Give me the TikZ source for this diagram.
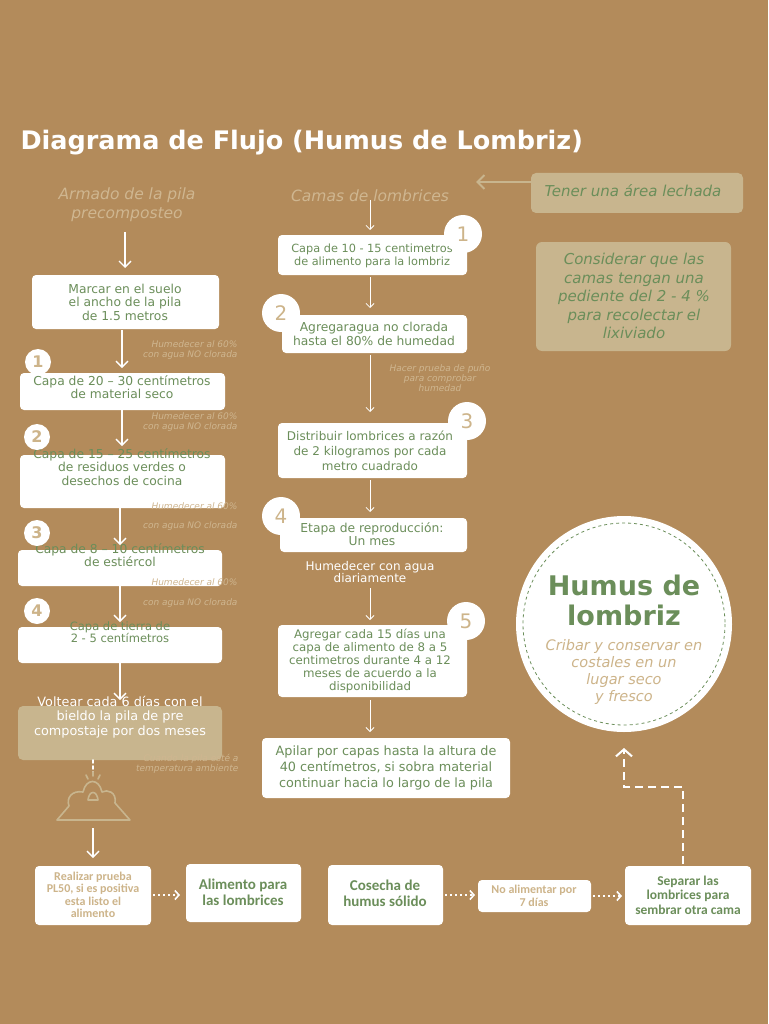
\documentclass[tikz,border=0pt]{standalone}
\usepackage{fontspec}
\setmainfont{DejaVu Sans}
\newfontfamily\cond{Carlito}
\usetikzlibrary{arrows.meta}
\definecolor{bg}{HTML}{B38B5B}
\definecolor{gtext}{HTML}{6B8E5A}
\definecolor{tanbox}{HTML}{C8B58E}
\definecolor{faint}{HTML}{CFB690}
\definecolor{tantext}{HTML}{CDB48A}
\tikzset{
 x=1pt,y=-1pt,
 wbox/.style={fill=white,rounded corners=4pt,inner sep=0pt},
 btxt/.style={text=gtext,font=\fontsize{12.3}{13.5}\selectfont,align=center},
 note/.style={text=faint,font=\fontsize{9}{10}\selectfont\itshape,align=right,anchor=east},
 ar/.style={draw=white,line width=1.3pt,-{Straight Barb[length=6pt,width=12pt]}},
 arm/.style={draw=white,line width=0.8pt,-{Straight Barb[length=4pt,width=8pt]}},
 num/.style={circle,fill=white,minimum size=#1,inner sep=0pt,text=tantext,font=\fontsize{16}{16}\selectfont\bfseries},
 dotar/.style={draw=white,line width=1.6pt,dash pattern=on 2pt off 3pt,-{Straight Barb[length=4pt,width=9pt]}},
 bb/.style={text=gtext,font=\cond\bfseries\fontsize{15}{16}\selectfont,align=center},
}
\begin{document}
\begin{tikzpicture}
\fill[bg] (0,0) rectangle (768,1024);
\useasboundingbox (0,0) rectangle (768,1024);
\node[anchor=west,text=white,font=\bfseries\fontsize{25.5}{25}\selectfont] (title) at (17,143) {Diagrama de Flujo (Humus de Lombriz)};
% left column
\node[text=faint,font=\itshape\fontsize{15.5}{19}\selectfont,align=center] (lh) at (127,205) {Armado de la pila\\precomposteo};
\fill[wbox] (32,275) rectangle (219,329); \node[btxt] (l1) at (125,302) {Marcar en el suelo\\el ancho de la pila\\de 1.5 metros};
\coordinate (a0) at (125,232); \coordinate (a1) at (125,268);
\draw[ar] (a0) -- (a1);
\node[note] (n1) at (241,350) {Humedecer al 60\%\\con agua NO clorada};
\coordinate (b0) at (122,330); \coordinate (b1) at (122,368); \draw[ar] (b0)--(b1);
\fill[wbox] (20,373) rectangle (225,410); \node[btxt] (l2) at (122,387) {Capa de 20 – 30 centímetros\\de material seco};
\node[num=26pt] (c1) at (38,362) {1};
\node[note] (n2) at (241,422) {Humedecer al 60\%\\con agua NO clorada};
\coordinate (b2) at (122,410); \coordinate (b3) at (122,446); \draw[ar] (b2)--(b3);
\fill[wbox] (20,455) rectangle (225,508); \node[btxt] (l3) at (122,467) {Capa de 15 – 25 centímetros\\de residuos verdes o\\desechos de cocina};
\node[num=26pt] (c2) at (37,437) {2};
\node[note] (n3a) at (241,506) {Humedecer al 60\%};
\node[note] (n3b) at (241,526) {con agua NO clorada};
\coordinate (b4) at (120,508); \coordinate (b5) at (120,545); \draw[ar] (b4)--(b5);
\fill[wbox] (18,550) rectangle (222,586); \node[btxt] (l4) at (120,555) {Capa de 8 – 10 centímetros\\de estiércol};
\node[num=26pt] (c3) at (37,533) {3};
\node[note] (n4a) at (241,582) {Humedecer al 60\%};
\node[note] (n4b) at (241,603) {con agua NO clorada};
\coordinate (b6) at (120,586); \coordinate (b7) at (120,622); \draw[ar] (b6)--(b7);
\fill[wbox] (18,627) rectangle (222,663); \node[btxt,font=\fontsize{11.5}{12.5}\selectfont] (l5) at (120,632) {Capa de tierra de\\2 - 5 centímetros};
\node[num=26pt] (c4) at (37,611) {4};
\coordinate (b8) at (120,663); \coordinate (b9) at (120,700); \draw[ar] (b8)--(b9);
\fill[tanbox,rounded corners=5pt] (18,706) rectangle (222,760);
\node[btxt,text=white,font=\fontsize{12.8}{14.5}\selectfont] (l6) at (120,717) {Voltear cada 6 días con el\\bieldo la pila de pre\\compostaje por dos meses};
\node[note] (n6) at (242,764) {Cuando la pila esté a\\temperatura ambiente};
% pile icon
\begin{scope}[draw=tanbox,line width=1.6pt,line cap=round,line join=round]
\draw[dashed,white] (93,760) -- (93,776);
\draw (57,820) -- (130,820) -- (115,803) .. controls (117,792) and (107,789) .. (102,792)
 .. controls (99,778) and (86,778) .. (83,792) .. controls (72,790) and (66,798) .. (69,806) -- (57,820);
\draw (88,800) .. controls (89,790) and (97,790) .. (98,800) -- (88,800);
\draw (86,775)--(88,779) (100,775)--(98,779) (93,772)--(93,776);
\end{scope}
\coordinate (p0) at (93,828); \coordinate (p1) at (93,858); \draw[ar] (p0)--(p1);
% middle column
\node[text=faint,font=\itshape\fontsize{15.5}{18}\selectfont] (mh) at (370,196) {Camas de lombrices};
\coordinate (m0) at (370,200); \coordinate (m1) at (370,230); \draw[arm] (m0)--(m1);
\fill[wbox] (278,235) rectangle (467,275); \node[btxt,font=\fontsize{11.3}{13.5}\selectfont] (r1) at (372,256) {Capa de 10 - 15 centimetros\\de alimento para la lombriz};
\node[num=38pt,font=\fontsize{20}{20}\selectfont] (k1) at (463,234) {1};
\coordinate (m2) at (370,277); \coordinate (m3) at (370,308); \draw[arm] (m2)--(m3);
\fill[wbox] (282,315) rectangle (467,353); \node[btxt] (r2) at (374,334) {Agregaragua no clorada\\hasta el 80\% de humedad};
\node[num=38pt,font=\fontsize{20}{20}\selectfont] (k2) at (281,313) {2};
\node[note,anchor=center,align=center] (n7) at (440,378) {Hacer prueba de puño\\para comprobar\\humedad};
\coordinate (m4) at (370,355); \coordinate (m5) at (370,412); \draw[arm] (m4)--(m5);
\fill[wbox] (278,423) rectangle (467,478); \node[btxt,font=\fontsize{12}{15}\selectfont] (r3) at (370,451) {Distribuir lombrices a razón\\de 2 kilogramos por cada\\metro cuadrado};
\node[num=38pt,font=\fontsize{20}{20}\selectfont] (k3) at (467,421) {3};
\coordinate (m6) at (370,480); \coordinate (m7) at (370,512); \draw[arm] (m6)--(m7);
\fill[wbox] (280,518) rectangle (467,552); \node[btxt] (r4) at (372,534) {Etapa de reproducción:\\Un mes};
\node[num=38pt,font=\fontsize{20}{20}\selectfont] (k4) at (281,516) {4};
\node[text=white,font=\fontsize{12}{11}\selectfont,align=center] (r4b) at (370,572) {Humedecer con agua\\diariamente};
\coordinate (m8) at (370,588); \coordinate (m9) at (370,620); \draw[arm] (m8)--(m9);
\fill[wbox] (278,625) rectangle (467,697); \node[btxt,font=\fontsize{11.8}{12.8}\selectfont] (r5) at (370,661) {Agregar cada 15 días una\\capa de alimento de 8 a 5\\centimetros durante 4 a 12\\meses de acuerdo a la\\disponibilidad};
\node[num=38pt,font=\fontsize{20}{20}\selectfont] (k5) at (466,621) {5};
\coordinate (m10) at (370,700); \coordinate (m11) at (370,732); \draw[arm] (m10)--(m11);
\fill[wbox] (262,738) rectangle (510,798); \node[btxt,font=\fontsize{12.8}{16}\selectfont] (r6) at (386,768) {Apilar por capas hasta la altura de\\40 centímetros, si sobra material\\continuar hacia lo largo de la pila};
% right
\fill[tanbox,rounded corners=5pt] (531,173) rectangle (743,213);
\node[text=gtext,font=\itshape\fontsize{15}{16}\selectfont] (t1) at (633,191) {Tener una área lechada};
\coordinate (ta) at (531,182); \coordinate (tb) at (476,182);
\draw[draw=tanbox,line width=2pt,-{Straight Barb[length=7pt,width=14pt]}] (ta)--(tb);
\fill[tanbox,rounded corners=6pt] (536,242) rectangle (731,351);
\node[text=gtext,font=\itshape\fontsize{15}{18.5}\selectfont,align=center] (t2) at (634,296) {Considerar que las\\camas tengan una\\pediente del 2 - 4 \%\\para recolectar el\\lixiviado};
\node[circle,fill=white,minimum size=216pt,inner sep=0pt] (hc) at (624,624) {};
\draw[gtext,dashed,line width=0.8pt] (hc.center) circle (101);
\node[text=gtext,font=\bfseries\fontsize{27}{30}\selectfont,align=center] (ht) at (624,600) {Humus de\\lombriz};
\node[text=tantext,font=\itshape\fontsize{14.5}{17}\selectfont,align=center] (hs) at (624,672) {Cribar y conservar en\\costales en un\\lugar seco\\y fresco};
% bottom row
\fill[wbox] (35,866) rectangle (151,925); \node[bb,text=tantext,font=\cond\bfseries\fontsize{12}{12.5}\selectfont] (q1) at (93,895) {Realizar prueba\\PL50, si es positiva\\esta listo el\\alimento};
\fill[wbox] (186,864) rectangle (301,922); \node[bb] (q2) at (243,892) {Alimento para\\las lombrices};
\fill[wbox] (328,865) rectangle (443,925); \node[bb] (q3) at (385,893) {Cosecha de\\humus sólido};
\fill[wbox] (478,880) rectangle (591,912); \node[bb,text=tantext,font=\cond\bfseries\fontsize{12}{12.5}\selectfont] (q4) at (534,896) {No alimentar por\\7 días};
\fill[wbox] (625,866) rectangle (751,925); \node[bb,font=\cond\bfseries\fontsize{13.5}{14.5}\selectfont] (q5) at (688,895) {Separar las\\lombrices para\\sembrar otra cama};
\coordinate (d1a) at (153,895); \coordinate (d1b) at (180,895); \draw[dotar] (d1a)--(d1b);
\coordinate (d2a) at (445,895); \coordinate (d2b) at (475,895); \draw[dotar] (d2a)--(d2b);
\coordinate (d3a) at (593,896); \coordinate (d3b) at (622,896); \draw[dotar] (d3a)--(d3b);
\coordinate (u0) at (683,864); \coordinate (u1) at (683,787); \coordinate (u2) at (624,787); \coordinate (u3) at (624,748);
\draw[draw=white,line width=2pt,dash pattern=on 8pt off 5pt,-{Straight Barb[length=7pt,width=16pt]}] (u0)--(u1)--(u2)--(u3);
\end{tikzpicture}
\end{document}
